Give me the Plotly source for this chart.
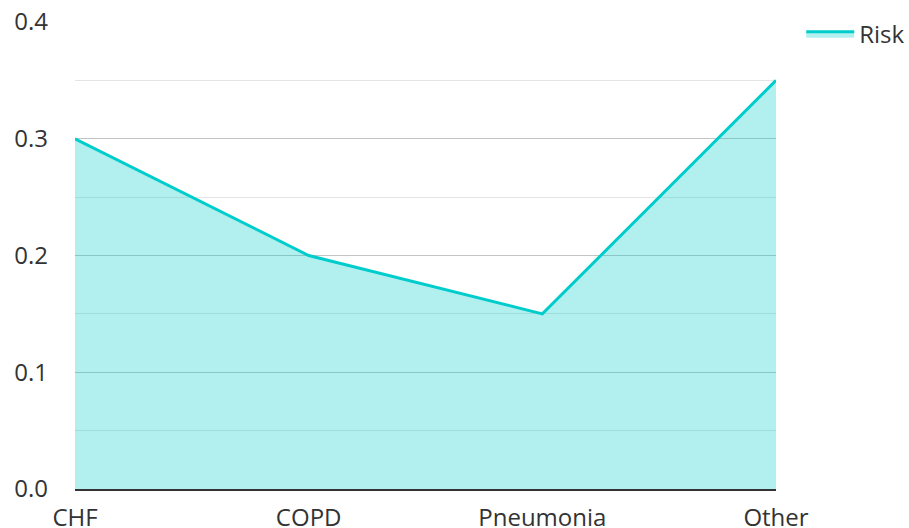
import plotly.graph_objects as go

categories = ["CHF", "COPD", "Pneumonia", "Other"]
risk = [0.30, 0.20, 0.15, 0.35]

fig = go.Figure()
fig.add_trace(go.Scatter(
    x=categories, y=risk, name="Risk", mode="lines",
    line=dict(color="#00CCCC", width=3),
    fill="tozeroy", fillcolor="rgba(0,204,204,0.3)",
))

fig.update_layout(
    width=909, height=528,
    margin=dict(l=75, r=133, t=22, b=39, autoexpand=False),
    paper_bgcolor="white", plot_bgcolor="white",
    font=dict(family="Open Sans", size=24, color="#333333"),
    showlegend=True,
    legend=dict(x=1.036, y=1.022, xanchor="left", yanchor="top", itemwidth=48,
                font=dict(size=24), bgcolor="rgba(0,0,0,0)"),
    xaxis=dict(showgrid=False, showline=True, linecolor="#333333", linewidth=2,
               range=[0, 3], ticks="", ticklabelstandoff=6, zeroline=False,
               automargin=False),
    yaxis=dict(range=[0, 0.4], dtick=0.1, tickformat=".1f",
               showgrid=True, gridcolor="#c4c4c4", gridwidth=1,
               minor=dict(dtick=0.05, showgrid=True, gridcolor="#e4e4e4", gridwidth=1),
               zeroline=False, ticks="", ticklabelstandoff=26, automargin=False),
)

fig.write_html("out.html", config={"displayModeBar": False},
               post_script="document.body.style.margin='0';")
